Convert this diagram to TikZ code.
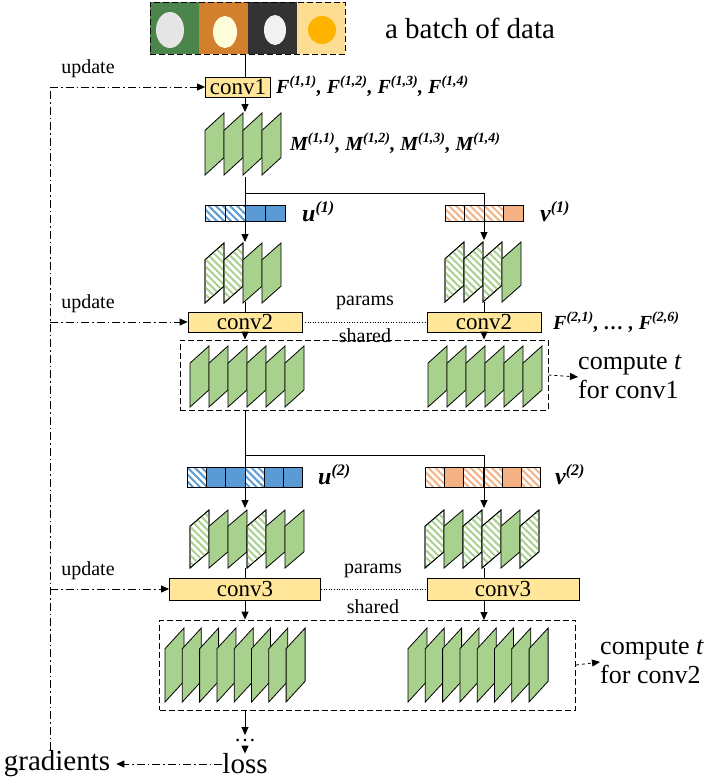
\documentclass[tikz,border=0pt]{standalone}
\usepackage{fontspec}
\setmainfont{Liberation Serif}
\usetikzlibrary{patterns.meta,arrows.meta}
\definecolor{gfill}{HTML}{A9D18E}
\definecolor{gline}{HTML}{A9D18E}
\definecolor{bfill}{HTML}{5B9BD5}
\definecolor{ofill}{HTML}{F4B183}
\definecolor{cfill}{HTML}{FFE699}
\newcommand\fmaps[5]{% x0, ytop, H, step, list (1 solid, 0 hatched)
  \foreach \t [count=\i] in {#5}{
    \pgfmathsetmacro\xx{#1+(\i-1)*#4}
    \ifnum\t=1
      \draw[fm,fill=gfill] (\xx,#2+#3) -- ++(0,-0.72*#3) -- (\xx+19,#2) -- ++(0,0.72*#3) -- cycle;
    \else
      \draw[fm,fill=white,postaction={pattern={Lines[angle=-45,distance=5pt,line width=2pt]},pattern color=gline}] (\xx,#2+#3) -- ++(0,-0.72*#3) -- (\xx+19,#2) -- ++(0,0.72*#3) -- cycle;
      \draw[fm] (\xx,#2+#3) -- ++(0,-0.72*#3) -- (\xx+19,#2) -- ++(0,0.72*#3) -- cycle;
    \fi}}
\newcommand\mbar[6]{% x0, ytop, cellw, h, color, list
  \foreach \t [count=\i] in {#6}{
    \pgfmathsetmacro\xx{#1+(\i-1)*#3}
    \ifnum\t=1
      \draw[fm,fill=#5] (\xx,#2) rectangle ++(#3,#4);
    \else
      \draw[fm,fill=white,postaction={pattern={Lines[angle=-45,distance=5pt,line width=2pt]},pattern color=#5}] (\xx,#2) rectangle ++(#3,#4);
      \draw[fm] (\xx,#2) rectangle ++(#3,#4);
    \fi}}
\begin{document}
\begin{tikzpicture}[x=1pt,y=-1pt,
  fm/.style={draw=black,line width=0.8pt,line join=miter},
  conv/.style={draw=black,fill=cfill,line width=0.8pt,inner sep=0pt,font=\fontsize{23}{23}\selectfont},
  lab/.style={inner sep=0pt,anchor=west,font=\fontsize{20}{20}\selectfont\bfseries\itshape},
  big/.style={inner sep=0pt,font=\fontsize{29}{31}\selectfont},
  ct/.style={inner sep=0pt,anchor=west,align=left,font=\fontsize{26}{29}\selectfont},
  small/.style={inner sep=0pt,font=\fontsize{20}{20}\selectfont},
  ar/.style={-{Triangle[length=8pt,width=7pt]},line width=0.9pt},
  dd/.style={dash pattern=on 8pt off 3pt on 1.5pt off 3pt,line width=0.8pt},
  ddar/.style={dd,-{Triangle[length=8pt,width=7pt]}},
  box/.style={draw=black,dash pattern=on 6pt off 3pt,line width=0.9pt,inner sep=0pt}]
\useasboundingbox (0,0) rectangle (709,782);
% photos
\fill[black!45!green!40!gray] (150,2) rectangle (199,54);
\fill[white!80!gray] (170,30) ellipse (14 and 18);
\fill[brown!70!orange] (199,2) rectangle (248,54);
\fill[white!85!yellow] (225,32) ellipse (12 and 16);
\fill[black!80] (248,2) rectangle (297,54);
\fill[white!90!gray] (275,30) ellipse (11 and 15);
\fill[yellow!40!orange!40] (297,2) rectangle (345,54);
\fill[orange!60!yellow] (322,30) ellipse (14 and 14);
\node[box,minimum width=195pt,minimum height=52pt] (img) at (247.5,28) {};
\node[big] (batch) at (470,28) {a batch of data};
% conv1
\node[conv,minimum width=65pt,minimum height=20pt] (c1) at (238,87) {conv1};
\node[lab] (F1) at (276,86) {F\textsuperscript{(1,1)}, F\textsuperscript{(1,2)}, F\textsuperscript{(1,3)}, F\textsuperscript{(1,4)}};
\coordinate (c1in) at (245,54);
\draw[line width=0.9pt] (c1in) -- (c1in|-c1.north);
\coordinate (m1t) at (245,112);
\draw[ar] (c1in|-c1.south) -- (m1t);
\fmaps{205}{113}{62}{19}{1,1,1,1}
\node[lab] (M1) at (290,143) {M\textsuperscript{(1,1)}, M\textsuperscript{(1,2)}, M\textsuperscript{(1,3)}, M\textsuperscript{(1,4)}};
% branch 1
\coordinate (b1) at (245,177);
\coordinate (b1r) at (484,193);
\coordinate (a1l) at (245,242);
\coordinate (a1r) at (484,240);
\mbar{205}{205}{20}{16}{bfill}{0,0,1,1}
\mbar{445}{205}{19.5}{16}{ofill}{0,0,0,1}
\draw[ar] (b1) -- (a1l);
\draw[ar] (b1|-b1r) -- (b1r) -- (a1r);
\node[lab,font=\fontsize{24}{24}\selectfont\bfseries\itshape] (u1) at (302,212) {u\textsuperscript{\fontsize{16}{16}\selectfont(1)}};
\node[lab,font=\fontsize{24}{24}\selectfont\bfseries\itshape] (v1) at (540,212) {v\textsuperscript{\fontsize{16}{16}\selectfont(1)}};
\fmaps{205}{243}{60}{19}{0,0,1,1}
\fmaps{445}{242}{60}{19}{0,0,0,1}
% conv2
\node[conv,minimum width=114pt,minimum height=20pt] (c2l) at (245,322) {conv2};
\node[conv,minimum width=114pt,minimum height=20pt] (c2r) at (484,322) {conv2};
\draw[dotted,line width=0.6pt] (c2l) -- (c2r);
\node[small] (p2) at (365,303) {params};
\node[small] (s2) at (365,336) {shared};
\node[lab] (F2) at (553,322) {F\textsuperscript{(2,1)}, \textbf{\dots} , F\textsuperscript{(2,6)}};
\draw[line width=0.9pt] (245,302) -- (c2l.north);
\draw[line width=0.9pt] (484,302) -- (c2r.north);
\node[box,minimum width=368pt,minimum height=70pt] (box1) at (364,375) {};
\draw[ar] (c2l.south) -- (c2l.south|-box1.north);
\draw[ar] (c2r.south) -- (c2r.south|-box1.north);
\fmaps{190}{346}{61}{19}{1,1,1,1,1,1}
\fmaps{428}{346}{61}{19}{1,1,1,1,1,1}
\node[ct] (ct1) at (578,377) {compute \textit{t}\\for conv1};
\draw[dashed,line width=0.8pt,-{Triangle[length=8pt,width=7pt]}] (box1.east) -- (ct1.west);
% branch 2
\coordinate (b2) at (245,455);
\coordinate (b2r) at (484,455);
\draw[line width=0.9pt] (box1.south-|b2) -- (b2);
\mbar{187}{467}{19.3}{20}{bfill}{0,1,1,0,1,1}
\mbar{425}{467}{19.3}{20}{ofill}{0,1,0,0,1,0}
\draw[ar] (b2) -- (245,508);
\draw[ar] (b2) -- (b2r) -- (484,508);
\node[lab,font=\fontsize{24}{24}\selectfont\bfseries\itshape] (u2) at (318,475) {u\textsuperscript{\fontsize{16}{16}\selectfont(2)}};
\node[lab,font=\fontsize{24}{24}\selectfont\bfseries\itshape] (v2) at (555,475) {v\textsuperscript{\fontsize{16}{16}\selectfont(2)}};
\fmaps{190}{510}{58}{19}{0,1,1,0,1,1}
\fmaps{425}{510}{58}{19}{0,1,0,0,1,0}
% conv3
\node[conv,minimum width=151pt,minimum height=22pt] (c3l) at (245,589) {conv3};
\node[conv,minimum width=152pt,minimum height=22pt] (c3r) at (503,589) {conv3};
\draw[dotted,line width=0.6pt] (c3l) -- (c3r);
\node[small] (p3) at (373,571) {params};
\node[small] (s3) at (373,607) {shared};
\draw[line width=0.9pt] (245,568) -- (c3l.north);
\draw[line width=0.9pt] (484,568) -- (484,578);
\node[box,minimum width=416pt,minimum height=90pt] (box2) at (367.5,665) {};
\draw[ar] (c3l.south) -- (c3l.south|-box2.north);
\draw[ar] (484,600) -- (484,620);
\fmaps{165}{628}{74}{17.3}{1,1,1,1,1,1,1,1}
\fmaps{408}{628}{74}{17.3}{1,1,1,1,1,1,1,1}
\node[ct] (ct2) at (600,662) {compute \textit{t}\\for conv2};
\draw[dashed,line width=0.8pt,-{Triangle[length=8pt,width=7pt]}] (box2.east) -- (ct2.west);
% bottom
\node[big,font=\fontsize{22}{22}\selectfont] (dots) at (245,741) {\dots};
\node[big] (loss) at (245,764) {loss};
\node[big] (grad) at (57,764) {gradients};
\draw[ar] (box2.south-|dots) -- (245,735);
\draw[ar] (245,746) -- (loss.north);
\draw[ddar] (loss.west) -- ([xshift=6pt]grad.east);
% update
\coordinate (ub) at (50,750);
\draw[dd] (ub) -- (50,87);
\draw[ddar] (50,87) -- (c1.west);
\draw[ddar] (50,322) -- (c2l.west);
\draw[ddar] (50,589) -- (c3l.west);
\node[small] (u1t) at (88,69) {update};
\node[small] (u2t) at (88,304) {update};
\node[small] (u3t) at (88,571) {update};
\end{tikzpicture}
\end{document}
